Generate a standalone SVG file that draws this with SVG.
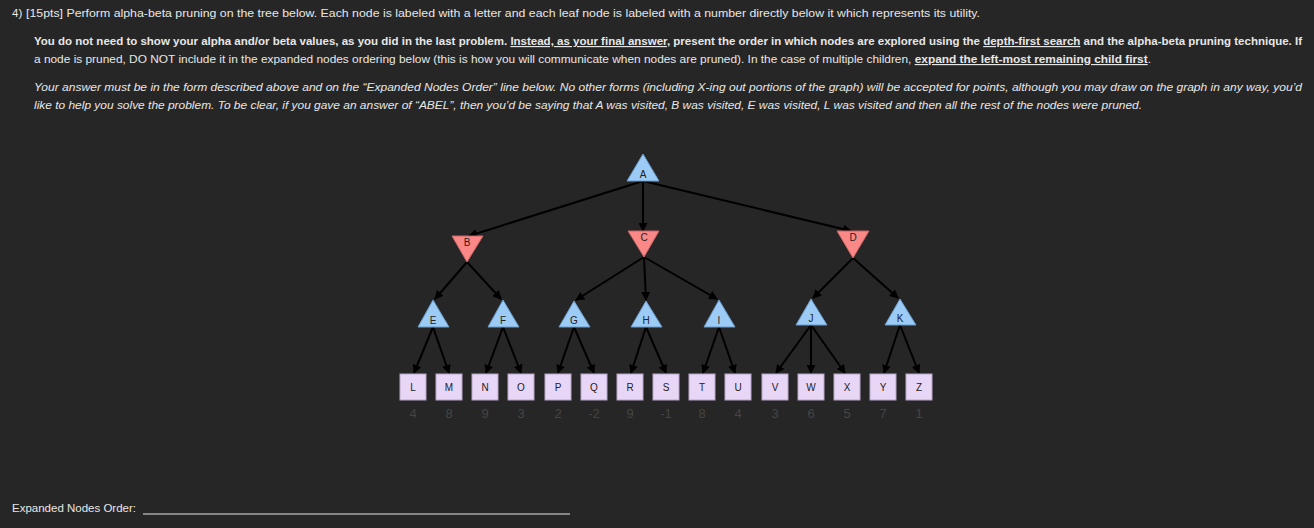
<svg xmlns="http://www.w3.org/2000/svg" width="1314" height="528" viewBox="0 0 1314 528">
<defs>
<marker id="ah" viewBox="0 0 10 10" refX="9" refY="5" markerWidth="4.5" markerHeight="4.5" orient="auto"><path d="M0,0L10,5L0,10z" fill="#000"/></marker>
<style>
.t{font-family:"Liberation Sans",Arial,sans-serif;font-size:11.5px;fill:#e6e6e6}
.b{font-weight:bold}.i{font-style:italic}.u{text-decoration:underline}
.max{fill:#9ccbf5;stroke:#6a9ccc;stroke-width:1}
.min{fill:#f98886;stroke:#c86464;stroke-width:1}
.leaf{fill:#e8d6f7;stroke:#b8a6c8;stroke-width:1}
.nl{font-family:"Liberation Sans",Arial,sans-serif;font-size:10px;fill:#222;text-anchor:middle}
.v{font-family:"Liberation Sans",Arial,sans-serif;font-size:13px;fill:#454545;text-anchor:middle}
.e{stroke:#000;stroke-width:2;fill:none;marker-end:url(#ah)}
</style>
</defs>
<rect width="1314" height="528" fill="#262626"/>
<text class="t" x="12" y="17">4)</text>
<text class="t" x="26" y="17" textLength="954" lengthAdjust="spacingAndGlyphs">[15pts] Perform alpha-beta pruning on the tree below. Each node is labeled with a letter and each leaf node is labeled with a number directly below it which represents its utility.</text>
<text class="t b" x="34" y="45" textLength="1268" lengthAdjust="spacingAndGlyphs">You do not need to show your alpha and/or beta values, as you did in the last problem. <tspan class="u">Instead, as your final answer</tspan>, present the order in which nodes are explored using the <tspan class="u">depth-first search</tspan> and the alpha-beta pruning technique. If</text>
<text class="t" x="34" y="63" textLength="1117" lengthAdjust="spacingAndGlyphs">a node is pruned, DO NOT include it in the expanded nodes ordering below (this is how you will communicate when nodes are pruned). In the case of multiple children, <tspan class="b u">expand the left-most remaining child first</tspan>.</text>
<text class="t i" x="34" y="91" textLength="1268" lengthAdjust="spacingAndGlyphs">Your answer must be in the form described above and on the “Expanded Nodes Order” line below. No other forms (including X-ing out portions of the graph) will be accepted for points, although you may draw on the graph in any way, you’d</text>
<text class="t i" x="34" y="109" textLength="1108" lengthAdjust="spacingAndGlyphs">like to help you solve the problem. To be clear, if you gave an answer of “ABEL”, then you’d be saying that A was visited, B was visited, E was visited, L was visited and then all the rest of the nodes were pruned.</text>
<text class="t" x="12" y="512">Expanded Nodes Order:</text>
<line x1="143" y1="514" x2="570" y2="514" stroke="#e6e6e6" stroke-width="1"/>
<g id="connectors">
<line class="e" x1="643" y1="181" x2="469" y2="236"/>
<line class="e" x1="643" y1="181" x2="643" y2="231"/>
<line class="e" x1="643" y1="181" x2="851" y2="231"/>
<line class="e" x1="467" y1="262" x2="435" y2="299"/>
<line class="e" x1="467" y1="262" x2="501" y2="299"/>
<line class="e" x1="644" y1="257" x2="576" y2="300"/>
<line class="e" x1="644" y1="257" x2="646" y2="300"/>
<line class="e" x1="644" y1="257" x2="717" y2="299"/>
<line class="e" x1="853" y1="258" x2="813" y2="298"/>
<line class="e" x1="853" y1="258" x2="898" y2="298"/>
<line class="e" x1="433" y1="327" x2="414" y2="373"/>
<line class="e" x1="433" y1="327" x2="449" y2="373"/>
<line class="e" x1="503" y1="327" x2="486" y2="373"/>
<line class="e" x1="503" y1="327" x2="521" y2="373"/>
<line class="e" x1="574" y1="327" x2="558" y2="373"/>
<line class="e" x1="574" y1="327" x2="594" y2="373"/>
<line class="e" x1="646" y1="327" x2="631" y2="373"/>
<line class="e" x1="646" y1="327" x2="666" y2="373"/>
<line class="e" x1="719" y1="327" x2="703" y2="373"/>
<line class="e" x1="719" y1="327" x2="735" y2="373"/>
<line class="e" x1="811" y1="325" x2="776" y2="373"/>
<line class="e" x1="811" y1="325" x2="811" y2="373"/>
<line class="e" x1="811" y1="325" x2="845" y2="373"/>
<line class="e" x1="900" y1="325" x2="884" y2="373"/>
<line class="e" x1="900" y1="325" x2="919" y2="373"/>
</g>
<g id="A"><polygon class="max" points="643,154 659,181 627,181"/><text class="nl" x="643" y="178">A</text></g>
<g id="B"><polygon class="min" points="452,236 483,236 467,262"/><text class="nl" x="467" y="246">B</text></g>
<g id="C"><polygon class="min" points="628,231 659,231 644,257"/><text class="nl" x="644" y="241">C</text></g>
<g id="D"><polygon class="min" points="837,231 869,231 853,258"/><text class="nl" x="853" y="241">D</text></g>
<g id="E"><polygon class="max" points="433,300 449,327 418,327"/><text class="nl" x="433" y="324">E</text></g>
<g id="F"><polygon class="max" points="503,300 519,327 488,327"/><text class="nl" x="503" y="324">F</text></g>
<g id="G"><polygon class="max" points="574,301 590,327 559,327"/><text class="nl" x="574" y="324">G</text></g>
<g id="H"><polygon class="max" points="646,301 662,327 631,327"/><text class="nl" x="646" y="324">H</text></g>
<g id="I"><polygon class="max" points="719,300 735,327 704,327"/><text class="nl" x="719" y="324">I</text></g>
<g id="J"><polygon class="max" points="811,299 827,325 796,325"/><text class="nl" x="811" y="322">J</text></g>
<g id="K"><polygon class="max" points="900,299 916,325 885,325"/><text class="nl" x="900" y="322">K</text></g>
<g id="L"><rect class="leaf" x="400" y="374" width="26" height="26"/><text class="nl" x="413" y="391">L</text><text class="v" x="413" y="418">4</text></g>
<g id="M"><rect class="leaf" x="436" y="374" width="26" height="26"/><text class="nl" x="449" y="391">M</text><text class="v" x="449" y="418">8</text></g>
<g id="N"><rect class="leaf" x="472" y="374" width="26" height="26"/><text class="nl" x="485" y="391">N</text><text class="v" x="485" y="418">9</text></g>
<g id="O"><rect class="leaf" x="508" y="374" width="26" height="26"/><text class="nl" x="521" y="391">O</text><text class="v" x="521" y="418">3</text></g>
<g id="P"><rect class="leaf" x="545" y="374" width="26" height="26"/><text class="nl" x="558" y="391">P</text><text class="v" x="558" y="418">2</text></g>
<g id="Q"><rect class="leaf" x="581" y="374" width="26" height="26"/><text class="nl" x="594" y="391">Q</text><text class="v" x="594" y="418">-2</text></g>
<g id="R"><rect class="leaf" x="617" y="374" width="26" height="26"/><text class="nl" x="630" y="391">R</text><text class="v" x="630" y="418">9</text></g>
<g id="S"><rect class="leaf" x="653" y="374" width="26" height="26"/><text class="nl" x="666" y="391">S</text><text class="v" x="666" y="418">-1</text></g>
<g id="T"><rect class="leaf" x="689" y="374" width="26" height="26"/><text class="nl" x="702" y="391">T</text><text class="v" x="702" y="418">8</text></g>
<g id="U"><rect class="leaf" x="725" y="374" width="26" height="26"/><text class="nl" x="738" y="391">U</text><text class="v" x="738" y="418">4</text></g>
<g id="V"><rect class="leaf" x="762" y="374" width="26" height="26"/><text class="nl" x="775" y="391">V</text><text class="v" x="775" y="418">3</text></g>
<g id="W"><rect class="leaf" x="798" y="374" width="26" height="26"/><text class="nl" x="811" y="391">W</text><text class="v" x="811" y="418">6</text></g>
<g id="X"><rect class="leaf" x="834" y="374" width="26" height="26"/><text class="nl" x="847" y="391">X</text><text class="v" x="847" y="418">5</text></g>
<g id="Y"><rect class="leaf" x="870" y="374" width="26" height="26"/><text class="nl" x="883" y="391">Y</text><text class="v" x="883" y="418">7</text></g>
<g id="Z"><rect class="leaf" x="906" y="374" width="26" height="26"/><text class="nl" x="919" y="391">Z</text><text class="v" x="919" y="418">1</text></g>
</svg>
